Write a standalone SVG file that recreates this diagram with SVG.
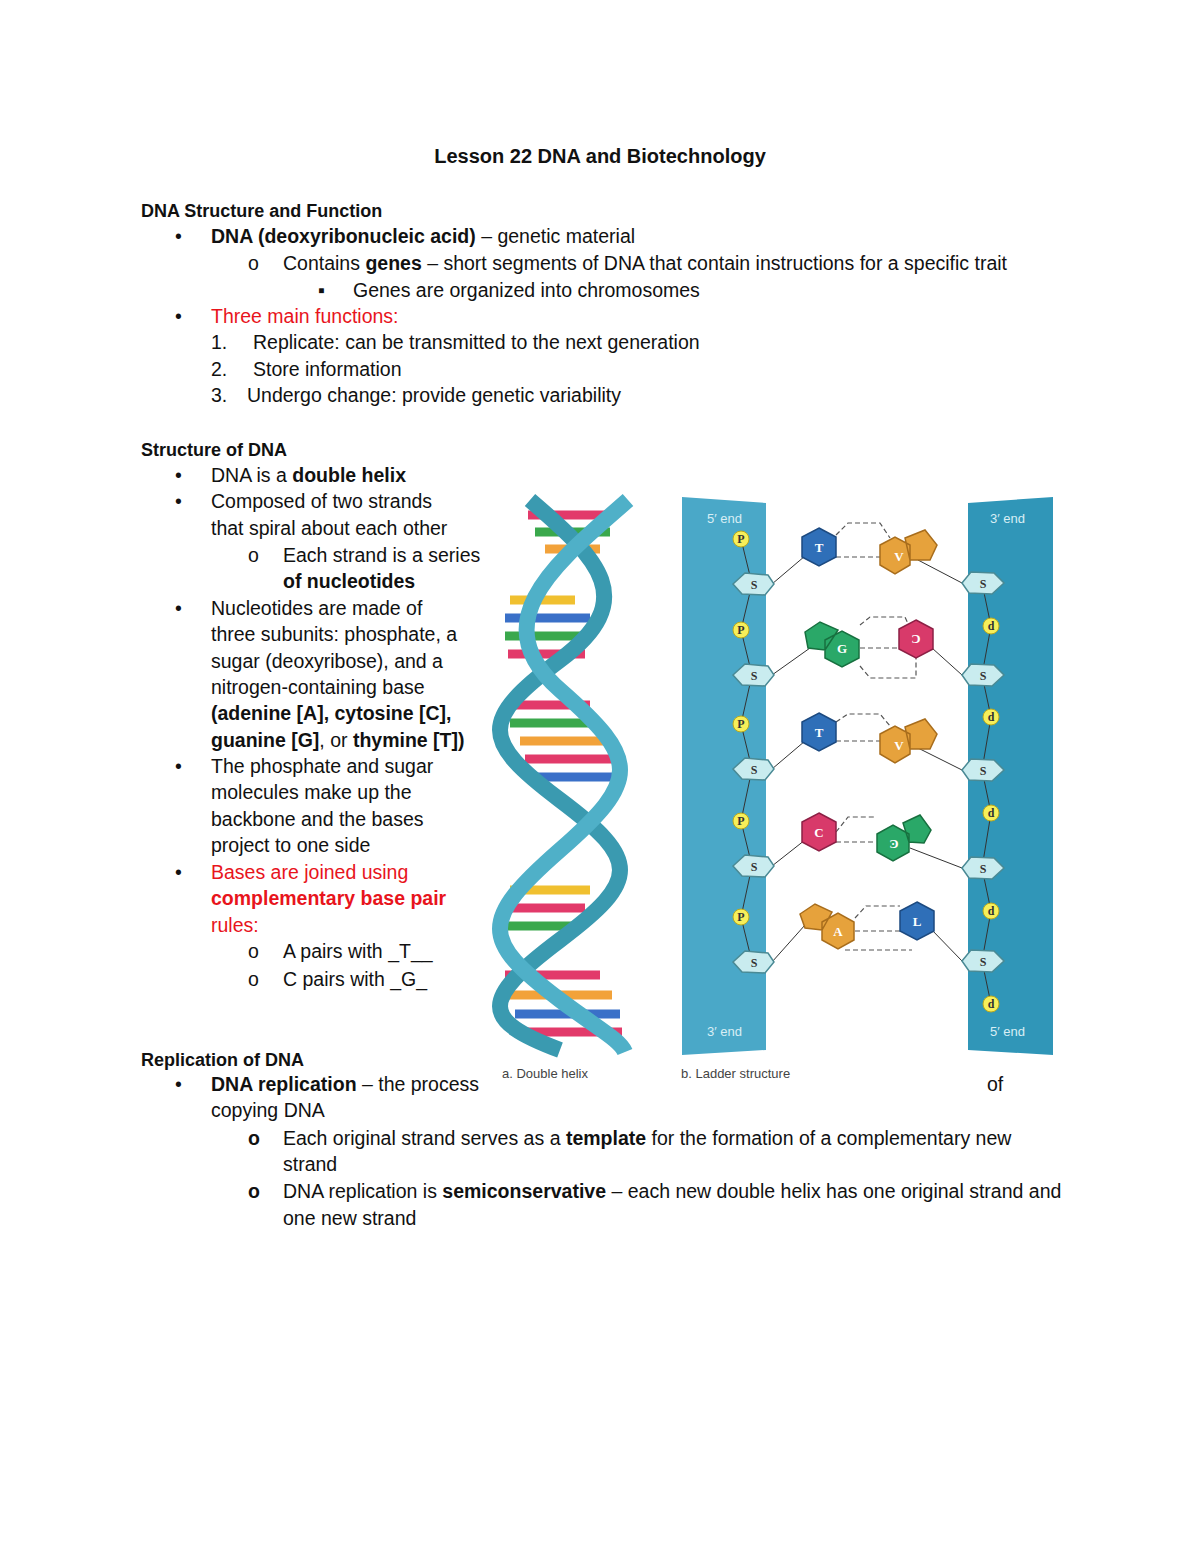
<svg xmlns="http://www.w3.org/2000/svg" width="1200" height="1553" viewBox="0 0 1200 1553">
<style>
text{font-family:"Liberation Sans",Arial,sans-serif;font-size:19.5px;fill:#111}
.b{font-weight:bold}.r{fill:#e8141c}
.cap{font-size:13px;fill:#444}
.lbl{font-family:"Liberation Serif",serif;font-weight:bold;font-size:13px;fill:#fff}
.pl{font-family:"Liberation Serif",serif;font-weight:bold;font-size:12px;fill:#333}
.end{font-size:13px;fill:#d8eef5}
.sg{fill:#c9ecef;stroke:#4a8a95;stroke-width:1.5}
.ph{fill:#f7ef5a;stroke:#b8a820;stroke-width:1}
.ln{stroke:#333;stroke-width:1;fill:none}
.hb{stroke:#555;stroke-width:1.2;stroke-dasharray:5 3;fill:none}
</style>
<rect width="1200" height="1553" fill="#fff"/>
<g id="text">
<text x="600" y="163" text-anchor="middle" class="b" style="font-size:20px">Lesson 22 DNA and Biotechnology</text>
<text x="141" y="217" class="b" style="font-size:18px">DNA Structure and Function</text>
<text x="175" y="243">•</text><text x="211" y="243"><tspan class="b">DNA (deoxyribonucleic acid)</tspan> – genetic material</text>
<text x="248" y="270">o</text><text x="283" y="270">Contains <tspan class="b">genes</tspan> – short segments of DNA that contain instructions for a specific trait</text>
<text x="318" y="297">▪</text><text x="353" y="297">Genes are organized into chromosomes</text>
<text x="175" y="323">•</text><text x="211" y="323" class="r">Three main functions:</text>
<text x="211" y="349">1.</text><text x="253" y="349">Replicate: can be transmitted to the next generation</text>
<text x="211" y="376">2.</text><text x="253" y="376">Store information</text>
<text x="211" y="402">3.</text><text x="247" y="402">Undergo change: provide genetic variability</text>
<text x="141" y="456" class="b" style="font-size:18px">Structure of DNA</text>
<text x="175" y="482">•</text><text x="211" y="482">DNA is a <tspan class="b">double helix</tspan></text>
<text x="175" y="508">•</text><text x="211" y="508">Composed of two strands</text>
<text x="211" y="535">that spiral about each other</text>
<text x="248" y="562">o</text><text x="283" y="562">Each strand is a series</text>
<text x="283" y="588" class="b">of nucleotides</text>
<text x="175" y="615">•</text><text x="211" y="615">Nucleotides are made of</text>
<text x="211" y="641">three subunits: phosphate, a</text>
<text x="211" y="668">sugar (deoxyribose), and a</text>
<text x="211" y="694">nitrogen-containing base</text>
<text x="211" y="720" class="b">(adenine [A], cytosine [C],</text>
<text x="211" y="747"><tspan class="b">guanine [G]</tspan>, or <tspan class="b">thymine [T])</tspan></text>
<text x="175" y="773">•</text><text x="211" y="773">The phosphate and sugar</text>
<text x="211" y="799">molecules make up the</text>
<text x="211" y="826">backbone and the bases</text>
<text x="211" y="852">project to one side</text>
<text x="175" y="879">•</text><text x="211" y="879" class="r">Bases are joined using</text>
<text x="211" y="905" class="r b">complementary base pair</text>
<text x="211" y="932" class="r">rules:</text>
<text x="248" y="958">o</text><text x="283" y="958">A pairs with _T__</text>
<text x="248" y="986">o</text><text x="283" y="986">C pairs with _G_</text>
<text x="141" y="1066" class="b" style="font-size:18px">Replication of DNA</text>
<text x="175" y="1091">•</text><text x="211" y="1091"><tspan class="b">DNA replication</tspan> – the process</text>
<text x="987" y="1091">of</text>
<text x="211" y="1117">copying DNA</text>
<text x="248" y="1145" class="b">o</text><text x="283" y="1145">Each original strand serves as a <tspan class="b">template</tspan> for the formation of a complementary new</text>
<text x="283" y="1171">strand</text>
<text x="248" y="1198" class="b">o</text><text x="283" y="1198">DNA replication is <tspan class="b">semiconservative</tspan> – each new double helix has one original strand and</text>
<text x="283" y="1225">one new strand</text>
<text x="502" y="1078" class="cap">a. Double helix</text>
<text x="681" y="1078" class="cap">b. Ladder structure</text>
</g>
<g id="helix">
<g stroke-width="9" stroke-linecap="butt">
<line x1="528" y1="515" x2="615" y2="515" stroke="#e23a6a"/><line x1="535" y1="532" x2="610" y2="532" stroke="#3aa84c"/>
<line x1="545" y1="549" x2="600" y2="549" stroke="#f2a23a"/>
<line x1="510" y1="600" x2="575" y2="600" stroke="#f0c030"/><line x1="505" y1="618" x2="590" y2="618" stroke="#3a70c8"/>
<line x1="505" y1="636" x2="592" y2="636" stroke="#3aa84c"/><line x1="508" y1="654" x2="585" y2="654" stroke="#e23a6a"/>
<line x1="505" y1="705" x2="590" y2="705" stroke="#e23a6a"/><line x1="510" y1="723" x2="600" y2="723" stroke="#3aa84c"/>
<line x1="520" y1="741" x2="615" y2="741" stroke="#f2a23a"/><line x1="525" y1="759" x2="622" y2="759" stroke="#e23a6a"/>
<line x1="530" y1="777" x2="618" y2="777" stroke="#3a70c8"/>
<line x1="510" y1="890" x2="590" y2="890" stroke="#f0c030"/><line x1="505" y1="908" x2="585" y2="908" stroke="#e23a6a"/>
<line x1="508" y1="926" x2="580" y2="926" stroke="#3aa84c"/>
<line x1="505" y1="975" x2="600" y2="975" stroke="#e23a6a"/><line x1="508" y1="995" x2="612" y2="995" stroke="#f2a23a"/>
<line x1="515" y1="1014" x2="620" y2="1014" stroke="#3a70c8"/><line x1="522" y1="1032" x2="622" y2="1032" stroke="#e23a6a"/>
</g>
<path d="M530 500 C600 560 640 600 560 660 C480 720 480 740 560 800 C640 860 640 880 560 940 C480 1000 480 1020 560 1050" fill="none" stroke="#3a9ab0" stroke-width="16"/>
<path d="M628 500 C560 560 480 620 560 690 C640 760 640 780 560 850 C480 920 480 940 560 1000 C600 1030 620 1040 625 1052" fill="none" stroke="#4fb0c8" stroke-width="16"/>
</g>
<g id="ladder">
<path d="M682 497 L766 503 L766 1050 L682 1055 Z" fill="#4aa8c8"/>
<path d="M968 503 L1053 497 L1053 1055 L968 1050 Z" fill="#3096b8"/>
<text x="707" y="523" class="end">5′ end</text><text x="990" y="523" class="end">3′ end</text>
<text x="707" y="1036" class="end">3′ end</text><text x="990" y="1036" class="end">5′ end</text>
<path class="ln" d="M741 539 L752 584 L741 630 L752 675 L741 724 L752 769 L741 821 L752 866 L741 917 L752 962"/>
<path class="ln" d="M982 583 L991 626 L982 675 L991 717 L982 770 L991 813 L982 868 L991 911 L982 961 L991 1004"/>
<g id="connectors">
<path class="ln" d="M772 584 L805 556 M918 560 L962 583 M772 675 L810 648 M932 648 L962 675 M772 769 L805 741 M918 748 L962 770 M772 866 L805 840 M910 848 L962 868 M772 962 L805 925 M930 928 L962 961"/>
<path class="hb" d="M836 535 L848 523 L880 523 L890 538 M836 557 L880 557 M860 648 L900 648 M860 625 L870 617 L905 617 L910 628 M860 666 L870 678 L916 678 L916 655 M836 722 L848 714 L880 714 L890 726 M836 741 L880 741 M836 832 L848 817 L876 817 M836 842 L876 842 M845 950 L912 950 M855 918 L866 906 L900 906 M855 931 L900 931"/>
</g>
<g id="p-left"><g class="ph"><circle cx="741" cy="539" r="8"/><circle cx="741" cy="630" r="8"/><circle cx="741" cy="724" r="8"/><circle cx="741" cy="821" r="8"/><circle cx="741" cy="917" r="8"/></g></g>
<g id="p-right"><g class="ph"><circle cx="991" cy="626" r="8"/><circle cx="991" cy="717" r="8"/><circle cx="991" cy="813" r="8"/><circle cx="991" cy="911" r="8"/><circle cx="991" cy="1004" r="8"/></g></g>
<g class="pl" text-anchor="middle">
<text x="741" y="543" class="pl">P</text><text x="741" y="634" class="pl">P</text><text x="741" y="728" class="pl">P</text><text x="741" y="825" class="pl">P</text><text x="741" y="921" class="pl">P</text>
<text x="991" y="630" class="pl">d</text><text x="991" y="721" class="pl">d</text><text x="991" y="817" class="pl">d</text><text x="991" y="915" class="pl">d</text><text x="991" y="1008" class="pl">d</text>
</g>
<g id="sugars">
<path class="sg" d="M733 584 L745 573 L768 575 L774 584 L765 595 L742 594 Z"/>
<path class="sg" d="M733 675 L745 664 L768 666 L774 675 L765 686 L742 685 Z"/>
<path class="sg" d="M733 769 L745 758 L768 760 L774 769 L765 780 L742 779 Z"/>
<path class="sg" d="M733 866 L745 855 L768 857 L774 866 L765 877 L742 876 Z"/>
<path class="sg" d="M733 962 L745 951 L768 953 L774 962 L765 973 L742 972 Z"/>
<path class="sg" d="M962 583 L971 572 L994 573 L1004 583 L992 594 L969 593 Z"/>
<path class="sg" d="M962 675 L971 664 L994 665 L1004 675 L992 686 L969 685 Z"/>
<path class="sg" d="M962 770 L971 759 L994 760 L1004 770 L992 781 L969 780 Z"/>
<path class="sg" d="M962 868 L971 857 L994 858 L1004 868 L992 879 L969 878 Z"/>
<path class="sg" d="M962 961 L971 950 L994 951 L1004 961 L992 972 L969 971 Z"/>
<g text-anchor="middle"><text x="754" y="589" class="pl">S</text><text x="754" y="680" class="pl">S</text><text x="754" y="774" class="pl">S</text><text x="754" y="871" class="pl">S</text><text x="754" y="967" class="pl">S</text>
<text x="983" y="588" class="pl">S</text><text x="983" y="680" class="pl">S</text><text x="983" y="775" class="pl">S</text><text x="983" y="873" class="pl">S</text><text x="983" y="966" class="pl">S</text></g>
</g>
<g id="bases" stroke-width="1.5">
<path d="M819 528 L836 537 L836 557 L819 566 L802 557 L802 537 Z" fill="#2f6fb8" stroke="#1c4a80"/>
<path d="M880 545 L895 537 L910 545 L910 565 L895 574 L880 565 Z M905 538 L925 530 L937 545 L930 560 L910 560 Z" fill="#e6a23c" stroke="#a86d1c"/>
<path d="M825 640 L842 631 L859 640 L859 658 L842 667 L825 658 Z M805 632 L820 622 L838 630 L825 650 L808 648 Z" fill="#2aa868" stroke="#17703f"/>
<path d="M916 620 L933 629 L933 649 L916 658 L899 649 L899 629 Z" fill="#d83a6a" stroke="#8c2045"/>
<path d="M819 713 L836 722 L836 742 L819 751 L802 742 L802 722 Z" fill="#2f6fb8" stroke="#1c4a80"/>
<path d="M880 734 L895 726 L910 734 L910 754 L895 763 L880 754 Z M905 727 L925 719 L937 734 L930 749 L910 749 Z" fill="#e6a23c" stroke="#a86d1c"/>
<path d="M819 813 L836 822 L836 842 L819 851 L802 842 L802 822 Z" fill="#d83a6a" stroke="#8c2045"/>
<path d="M877 834 L893 825 L909 834 L909 852 L893 861 L877 852 Z M903 823 L920 815 L931 830 L924 843 L909 842 Z" fill="#2aa868" stroke="#17703f"/>
<path d="M822 922 L838 913 L854 922 L854 940 L838 949 L822 940 Z M800 914 L815 904 L832 912 L822 930 L805 928 Z" fill="#e6a23c" stroke="#a86d1c"/>
<path d="M917 902 L934 911 L934 931 L917 940 L900 931 L900 911 Z" fill="#2f6fb8" stroke="#1c4a80"/>
<g text-anchor="middle"><text x="819" y="552" class="lbl">T</text><text x="899" y="561" class="lbl">V</text>
<text x="842" y="653" class="lbl">G</text><text x="916" y="643" class="lbl">Ͻ</text>
<text x="819" y="737" class="lbl">T</text><text x="899" y="750" class="lbl">V</text>
<text x="819" y="837" class="lbl">C</text><text x="894" y="848" class="lbl">Ͽ</text>
<text x="838" y="936" class="lbl">A</text><text x="917" y="926" class="lbl">L</text></g>
</g>
</g>
</svg>
